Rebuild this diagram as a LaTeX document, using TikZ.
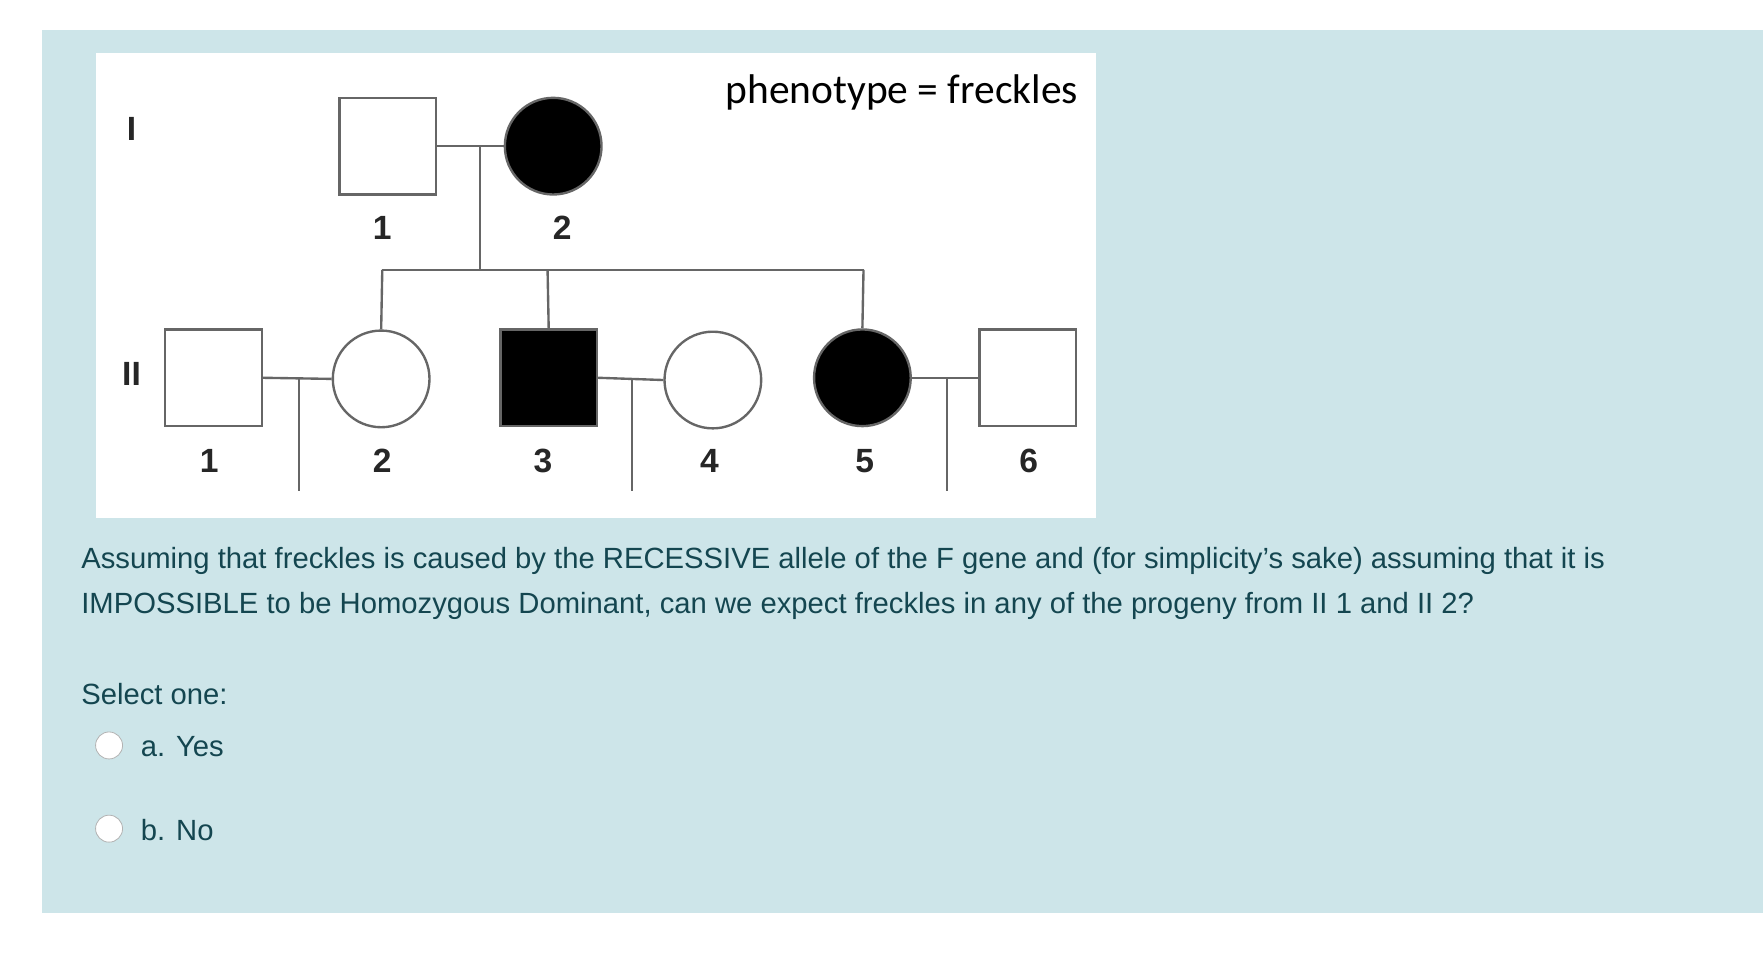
\documentclass[tikz,border=0pt]{standalone}
\usepackage{fontspec}
\setmainfont{Liberation Sans}
\newfontfamily\calib{Carlito}
\begin{document}
\begin{tikzpicture}[x=0.02cm,y=-0.02cm,
  ln/.style={draw=gray!80!black,line width=1.2pt},
  sq/.style={draw=gray!80!black,line width=1.2pt,minimum size=1.72cm,inner sep=0,rectangle},
  ci/.style={draw=gray!80!black,line width=1.2pt,minimum size=1.72cm,inner sep=0,circle},
  num/.style={font=\fontsize{17}{20}\selectfont\bfseries,text=black!85},
  txt/.style={font=\fontsize{14.8}{18}\selectfont,text={rgb,255:red,20;green,70;blue,80},anchor=west,inner sep=0}]
\definecolor{bg}{RGB}{205,229,233}
\useasboundingbox (0,0) rectangle (1568,857);
\fill[white] (0,0) rectangle (1568,857);
\fill[bg] (37,27) rectangle (1568,812);
\fill[white] (85,47) rectangle (975,461);
\node[num] (gI) at (117,115) {I};
\node[num] (gII) at (117,333) {II};
\node[font=\calib\fontsize{21}{24}\selectfont] (ph) at (802,82) {phenotype = freckles};
% Gen I
\node[sq] (i1) at (345,130) {};
\node[ci,fill=black] (i2) at (492,130) {};
\draw[ln] (i1.east) -- (i2.west);
\coordinate (m1) at (427,130);
\coordinate (s1) at (427,240);
\draw[ln] (m1) -- (s1);
\node[num] (l11) at (340,203) {1};
\node[num] (l12) at (500,203) {2};
% Gen II
\node[sq] (a1) at (190,336) {};
\node[ci] (a2) at (339,337) {};
\node[sq,fill=black] (a3) at (488,336) {};
\node[ci] (a4) at (634,338) {};
\node[ci,fill=black] (a5) at (767,336) {};
\node[sq] (a6) at (914,336) {};
\coordinate (sl) at (340,240);
\coordinate (sr) at (768,240);
\draw[ln] (sl) -- (sr);
\draw[ln] (sl) -- (a2.north);
\draw[ln] (487,240) -- (a3.north);
\draw[ln] (sr) -- (a5.north);
\draw[ln] (a1.east) -- (a2.west);
\draw[ln] (a3.east) -- (a4.west);
\draw[ln] (a5.east) -- (a6.west);
\draw[ln] (266,337) -- (266,437);
\draw[ln] (562,337) -- (562,437);
\draw[ln] (842,337) -- (842,437);
\foreach \n/\x in {1/186,2/340,3/483,4/631,5/769,6/915}
  \node[num] (b\n) at (\x,410) {\n};
% text
\node[txt] (t1) at (72,499) {Assuming that freckles is caused by the RECESSIVE allele of the F gene and (for simplicity's sake) assuming that it is};
\node[txt] (t2) at (72,539) {IMPOSSIBLE to be Homozygous Dominant, can we expect freckles in any of the progeny from II 1 and II 2?};
\node[txt] (t3) at (72,617) {Select one:};
\node[circle,draw=gray!60,fill=white,minimum size=0.48cm,inner sep=0] (r1) at (97,663) {};
\node[circle,draw=gray!60,fill=white,minimum size=0.48cm,inner sep=0] (r2) at (97,737) {};
\node[txt] (ya) at (125,664) {a. Yes};
\node[txt] (nb) at (125,738) {b. No};
\end{tikzpicture}
\end{document}
